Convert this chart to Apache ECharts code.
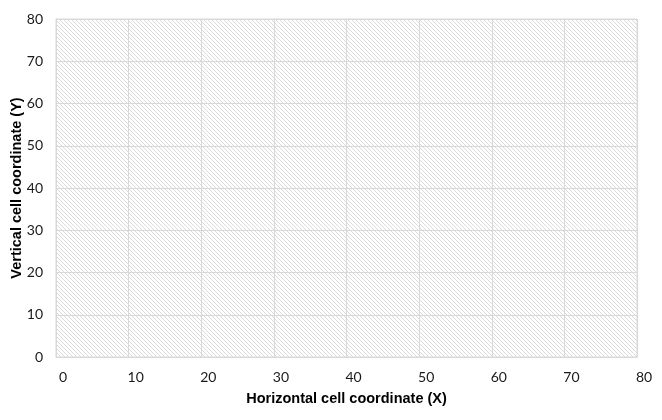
<!DOCTYPE html>
<html><head><meta charset="utf-8">
<script src="https://cdn.jsdelivr.net/npm/echarts@6/dist/echarts.min.js"></script>
<style>html,body{margin:0;padding:0;background:#fff}#c{width:662px;height:420px}</style>
</head><body><div id="c"></div>
<script>
const xMin = 0, xMax = 80, xStep = 10;
const yMin = 0, yMax = 80, yStep = 10;
const xTitle = 'Horizontal cell coordinate (X)';
const yTitle = 'Vertical cell coordinate (Y)';
const points = [];

// hatch pattern
const pc = document.createElement('canvas');
pc.width = 4; pc.height = 4;
const ctx = pc.getContext('2d');
ctx.fillStyle = '#ffffff'; ctx.fillRect(0,0,4,4);
ctx.fillStyle = '#dadada';
for (let i = 0; i < 4; i++) ctx.fillRect(i, i, 1, 1);

const chart = echarts.init(document.getElementById('c'), null, {renderer: 'canvas'});
const lblFont = 'Lato, "Open Sans", sans-serif';
chart.setOption({
  animation: false,
  grid: {left: 56, right: 25, top: 19, bottom: 63, show: true, containLabel: false, outerBoundsMode: 'none',
    backgroundColor: {image: pc, repeat: 'repeat'}, borderColor: '#d9d9d9', borderWidth: 1},
  xAxis: {type: 'value', min: xMin, max: xMax, interval: xStep,
    name: xTitle, nameLocation: 'middle', nameGap: 34, nameMoveOverlap: false,
    nameTextStyle: {fontFamily: '"Liberation Sans", Arial, sans-serif', fontWeight: 'bold', fontSize: 14.5, color: '#000'},
    axisLine: {show: true, lineStyle: {color: '#d9d9d9'}}, axisTick: {show: false},
    axisLabel: {fontFamily: lblFont, fontSize: 14, color: '#1a1a1a', margin: 13, padding: [0,0,0,14]},
    splitLine: {show: true, lineStyle: {color: '#d9d9d9', width: 1}}},
  yAxis: {type: 'value', min: yMin, max: yMax, interval: yStep,
    name: yTitle, nameLocation: 'middle', nameGap: 32, nameMoveOverlap: false,
    nameTextStyle: {fontFamily: '"Liberation Sans", Arial, sans-serif', fontWeight: 'bold', fontSize: 14.5, color: '#000'},
    axisLine: {show: true, lineStyle: {color: '#d9d9d9'}}, axisTick: {show: false},
    axisLabel: {fontFamily: lblFont, fontSize: 14, color: '#1a1a1a', margin: 13},
    splitLine: {show: true, lineStyle: {color: '#d9d9d9', width: 1}}},
  series: [{type: 'scatter', data: points}]
});
</script></body></html>
